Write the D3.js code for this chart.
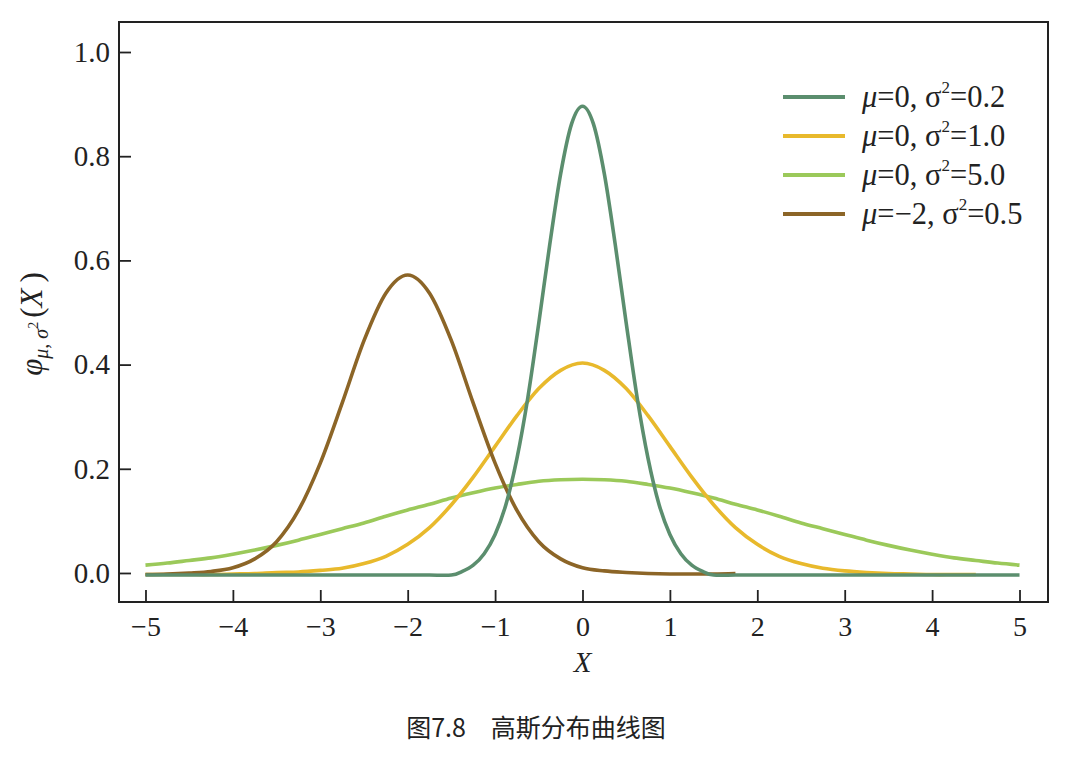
<!DOCTYPE html>
<html>
<head>
<meta charset="utf-8">
<script src="https://cdn.jsdelivr.net/npm/d3@7"></script>
<style>
  body{margin:0;background:#fff;}
  svg text{font-family:"Times New Roman","Liberation Serif",Tinos,"DejaVu Serif",serif;fill:#222;}
  svg text.cap{font-family:"Noto Sans CJK SC",sans-serif;}
</style>
</head>
<body>
<div class="canvas"></div>
<script>
// x grid (step 0.25)
const xs=[-5,-4.75,-4.5,-4.25,-4,-3.75,-3.5,-3.25,-3,-2.75,-2.5,-2.25,-2,-1.75,-1.5,-1.25,-1,-0.75,-0.5,-0.25,
          0,0.25,0.5,0.75,1,1.25,1.5,1.75,2,2.25,2.5,2.75,3,3.25,3.5,3.75,4,4.25,4.5,4.75,5];
// denser grid for the narrow curve
const xsNarrow=[-5,-4.5,-4,-3.5,-3,-2.5,-2,-1.75,-1.5,-1.375,-1.25,-1.125,-1,-0.875,-0.75,-0.625,-0.5,-0.375,-0.25,-0.125,
                0,0.125,0.25,0.375,0.5,0.625,0.75,0.875,1,1.125,1.25,1.375,1.5,1.75,2,2.5,3,3.5,4,4.5,5];
// mu=0, sigma^2=0.2 (on xsNarrow)
const s02=[-0.004,-0.004,-0.004,-0.004,-0.004,-0.004,-0.004,-0.004,-0.004,0.003,0.015,0.037,0.074,0.132,0.220,0.337,0.480,0.630,0.766,0.862,
           0.896,0.862,0.766,0.630,0.480,0.337,0.220,0.132,0.074,0.037,0.015,0.003,-0.004,-0.004,-0.004,-0.004,-0.004,-0.004,-0.004,-0.004,-0.004];
// mu=0, sigma^2=1.0
const s10=[-0.003,-0.003,-0.003,-0.003,-0.002,-0.001,0.001,0.002,0.005,0.009,0.018,0.032,0.055,0.087,0.131,0.184,0.243,0.302,0.354,0.389,
           0.403,0.389,0.354,0.302,0.243,0.184,0.131,0.087,0.055,0.032,0.018,0.009,0.004,0.001,-0.001,-0.002,-0.003,-0.003,-0.003,null,null];
// mu=0, sigma^2=5.0
const s50=[0.015,0.019,0.024,0.029,0.036,0.044,0.053,0.063,0.074,0.085,0.096,0.109,0.121,0.132,0.144,0.154,0.163,0.170,0.176,0.179,
           0.180,0.179,0.176,0.170,0.163,0.154,0.144,0.132,0.121,0.109,0.096,0.085,0.074,0.063,0.053,0.044,0.036,0.029,0.024,0.019,0.015];
// mu=-2, sigma^2=0.5
const s05=[-0.003,-0.002,0.000,0.003,0.010,0.027,0.060,0.120,0.211,0.326,0.446,0.537,0.572,0.537,0.446,0.326,0.211,0.120,0.060,0.027,
           0.010,0.004,0.001,-0.001,-0.002,-0.002,-0.002,-0.001,null,null,null,null,null,null,null,null,null,null,null,null,null];

const xTicks=[-5,-4,-3,-2,-1,0,1,2,3,4,5];
const yTicks=[0,0.2,0.4,0.6,0.8,1.0];

const series=[
  {mu:'0',  s2:'5.0',xv:xs,values:s50,color:'#9bc95a',order:2},
  {mu:'0',  s2:'1.0',xv:xs,values:s10,color:'#e8b92c',order:1},
  {mu:'−2', s2:'0.5',xv:xs,values:s05,color:'#8c6527',order:3},
  {mu:'0',  s2:'0.2',xv:xsNarrow,values:s02,color:'#5b8e6e',order:0}
];

const svg=d3.select('.canvas')
  .append('svg')
    .attr('width',1080)
    .attr('height',760);

const margin={top:22,right:32,bottom:158,left:119};
const graphWidth=1080-margin.left-margin.right;
const graphHeight=760-margin.top-margin.bottom;

const graph=svg.append('g')
  .attr('transform',`translate(${margin.left},${margin.top})`);

const x=d3.scaleLinear().domain([-5.303,5.326]).range([0,graphWidth]);
const y=d3.scaleLinear().domain([-0.0557,1.0576]).range([graphHeight,0]);

// curves
const line=d3.line()
  .defined(d=>d[1]!==null)
  .x(d=>x(d[0]))
  .y(d=>y(d[1]))
  .curve(d3.curveCatmullRom.alpha(0));

graph.selectAll('path.curve')
  .data(series)
  .enter()
  .append('path')
    .attr('class','curve')
    .attr('fill','none')
    .attr('stroke',d=>d.color)
    .attr('stroke-width',3.6)
    .attr('stroke-linejoin','round')
    .attr('d',d=>line(d.xv.map((v,i)=>[v,d.values[i]])));

// axes, ticks pointing inwards
const xAxis=d3.axisBottom(x).tickValues(xTicks).tickSizeInner(-12).tickSizeOuter(0).tickPadding(14);
const yAxis=d3.axisLeft(y).tickValues(yTicks).tickSizeInner(-12).tickSizeOuter(0).tickPadding(9)
  .tickFormat(d3.format('.1f'));

const xAxisGroup=graph.append('g').attr('transform',`translate(0,${graphHeight})`).call(xAxis);
const yAxisGroup=graph.append('g').call(yAxis);
[xAxisGroup,yAxisGroup].forEach(g=>{
  g.select('.domain').remove();
  g.selectAll('line').attr('stroke','#222').attr('stroke-width',1.8);
});
xAxisGroup.selectAll('text').attr('font-size',28);
yAxisGroup.selectAll('text').attr('font-size',29);

// frame
graph.append('rect')
  .attr('width',graphWidth)
  .attr('height',graphHeight)
  .attr('fill','none')
  .attr('stroke','#222')
  .attr('stroke-width',2);

// axis labels
graph.append('text')
  .attr('x',x(0))
  .attr('y',graphHeight+70)
  .attr('text-anchor','middle')
  .attr('font-size',29)
  .attr('font-style','italic')
  .text('X');

const yl=svg.append('text')
  .attr('transform','translate(42,324) rotate(-90)')
  .attr('text-anchor','middle')
  .attr('font-size',31);
yl.append('tspan').attr('font-style','italic').text('φ');
yl.append('tspan').attr('font-size',20).attr('font-style','italic').attr('dy',6).text('μ, σ');
yl.append('tspan').attr('font-size',14).attr('dy',-10).text('2');
yl.append('tspan').attr('dy',4).attr('dx',4).text('(');
yl.append('tspan').attr('font-style','italic').text('X');
yl.append('tspan').attr('dx',6).text(')');

// legend
const legend=graph.append('g').attr('transform','translate(664,75)');
const legendOrder=series.slice().sort((a,b)=>a.order-b.order);
const rows=legend.selectAll('g')
  .data(legendOrder)
  .enter()
  .append('g')
    .attr('transform',(d,i)=>`translate(0,${i*39})`);
rows.append('line')
  .attr('x1',0).attr('x2',62)
  .attr('stroke',d=>d.color)
  .attr('stroke-width',4);
const lt=rows.append('text')
  .attr('x',79)
  .attr('y',10)
  .attr('font-size',30.5);
lt.append('tspan').attr('font-style','italic').text('μ');
lt.append('tspan').text(d=>'='+d.mu+', σ');
lt.append('tspan').attr('font-size',17).attr('dy',-14).text('2');
lt.append('tspan').attr('dy',14).text(d=>'='+d.s2);

// caption
svg.append('text')
  .attr('class','cap')
  .attr('x',536)
  .attr('y',737)
  .attr('text-anchor','middle')
  .attr('font-size',25)
  .text('图7.8　高斯分布曲线图');
</script>
</body>
</html>
